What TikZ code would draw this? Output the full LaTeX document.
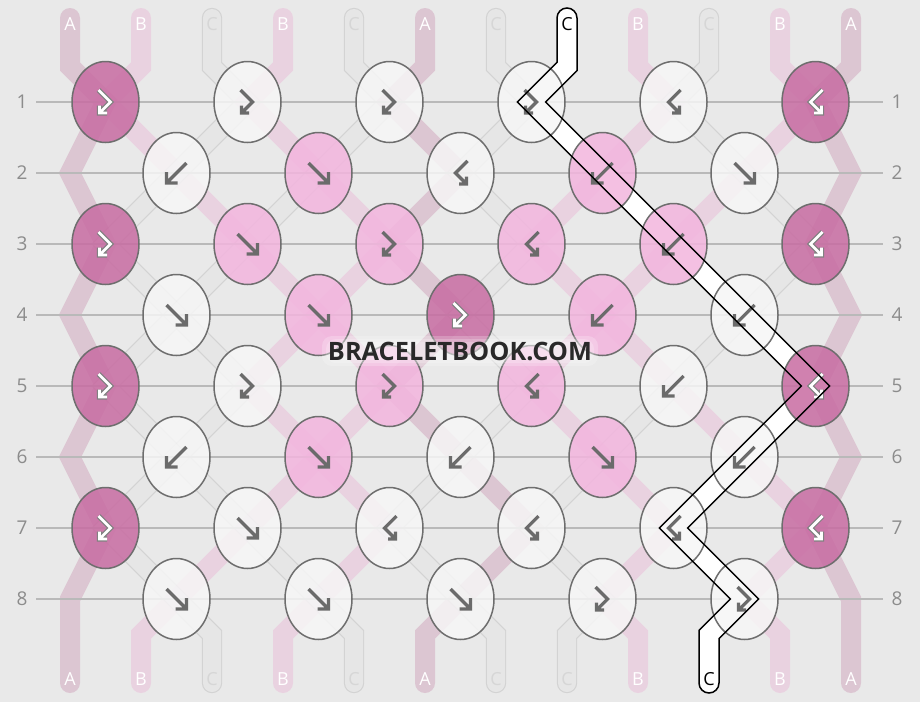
\documentclass[tikz,border=0pt]{standalone}
\usepackage{fontspec}
\setmainfont{Open Sans}
\usetikzlibrary{shapes.geometric,calc}
\definecolor{bgc}{HTML}{E9E9E9}
\definecolor{cA}{HTML}{B8608F}
\definecolor{cB}{HTML}{EBA3D0}
\definecolor{kD}{HTML}{C86CA2}
\definecolor{kP}{HTML}{F3B5DE}
\definecolor{kW}{HTML}{F6F6F6}
\definecolor{arr}{HTML}{6B6B6B}
\definecolor{rim}{HTML}{6E6E6E}
\definecolor{rowline}{HTML}{B9B9B9}
\definecolor{numc}{HTML}{8C8C8C}
\definecolor{letC}{HTML}{D6D6D6}
\newcommand\gFW{(-10,-10) -- (10,10) (-1,10) -- (10,10) -- (10,-1)}
\newcommand\gBW{(10,-10) -- (-10,10) (1,10) -- (-10,10) -- (-10,-1)}
\newcommand\gFB{(-7,-12) -- (5,0) -- (-6,11) (-6,3.5) -- (-6,11) -- (1.5,11)}
\newcommand\gBF{(7,-12) -- (-5,0) -- (6,11) (6,3.5) -- (6,11) -- (-1.5,11)}
\newcommand\drawglyph[3]{%
  \expandafter\let\expandafter\curglyph\csname g#2\endcsname
  \begin{scope}[shift={(#1)}]
    \draw[#3] \curglyph;
  \end{scope}}
\newcommand\hlpath{($(T8)+(-10,0)$) -- ($(U8)+(-10,-4.142)$) -- ($(p1-4)+(-14.142,0)$) -- ($(p5-6)+(-14.142,0)$) -- ($(p7-5)+(-14.142,0)$) -- ($(p8-5)+(-14.142,0)$) -- ($(D10)+(-10,-4.142)$) -- ($(B10)+(-10,0)$) arc[start angle=180, end angle=0, radius=10] -- ($(D10)+(10,4.142)$) -- ($(p8-5)+(14.142,0)$) -- ($(p7-5)+(14.142,0)$) -- ($(p5-6)+(14.142,0)$) -- ($(p1-4)+(14.142,0)$) -- ($(U8)+(10,4.142)$) -- ($(T8)+(10,0)$) arc[start angle=0, end angle=-180, radius=10] -- cycle}
\begin{document}
\begin{tikzpicture}[x=0.5pt,y=-0.5pt,
  bandA/.style={line width=10pt, line cap=round, line join=miter, draw=cA, draw opacity=0.25},
  bandB/.style={line width=10pt, line cap=round, line join=miter, draw=cB, draw opacity=0.32},
  bandC/.style={line width=9pt, line cap=round, line join=miter, draw=white, draw opacity=0.45,
     preaction={draw=black, draw opacity=0.09, line width=10.2pt, line cap=round, line join=miter}},
  knot/.style={ellipse, draw=rim, line width=0.75pt, minimum width=33.5pt, minimum height=40.5pt, inner sep=0pt, fill opacity=0.85},
  arrW/.style={draw=arr, line width=1.6pt},
  arrP/.style={draw=arr, line width=1.6pt},
  arrD/.style={draw=white, line width=1.4pt, preaction={draw=arr!85, line width=2.6pt}},
  rowl/.style={draw=rowline, line width=0.6pt, shorten <=1pt, shorten >=1pt},
  num/.style={text=numc, font=\fontsize{9.5}{10}\selectfont},
  labL/.style={text=white, font=\fontsize{9}{10}\selectfont, inner sep=0pt},
  labC/.style={text=letC, font=\fontsize{9}{10}\selectfont, inner sep=0pt},
  labH/.style={text=black, font=\fontsize{9}{10}\selectfont, inner sep=0pt},
  wm/.style={text=black!84, font=\bfseries, inner sep=0pt},
  glow/.style={fill=white, fill opacity=0.22, rounded corners=5pt}]
\useasboundingbox (0,0) rectangle (920,702);
\fill[bgc] (0,0) rectangle (920,702);
% string end coordinates
\foreach \i in {1,...,12} {
  \pgfmathsetmacro\xx{70+71*(\i-1)}
  \coordinate (T\i) at (\xx,18);
  \coordinate (U\i) at (\xx,66.5);
  \coordinate (D\i) at (\xx,634.5);
  \coordinate (B\i) at (\xx,683);
}
% knot centres
\foreach \rr in {1,3,5,7} {
  \foreach \kk in {1,...,6} {
    \coordinate (p\rr-\kk) at ({105.5+142*(\kk-1)},{102+71*(\rr-1)});
  }
}
\foreach \rr in {2,4,6,8} {
  \foreach \kk in {1,...,5} {
    \coordinate (p\rr-\kk) at ({176.5+142*(\kk-1)},{102+71*(\rr-1)});
  }
  \coordinate (EL\rr) at (70,{102+71*(\rr-1)});
  \coordinate (ER\rr) at (851,{102+71*(\rr-1)});
}
% strings
\draw[bandA] (T1) -- (U1) -- (p1-1) -- (EL2) -- (p3-1) -- (EL4) -- (p5-1) -- (EL6) -- (p7-1) -- (EL8) -- (B1);
\draw[bandB] (T2) -- (U2) -- (p1-1) -- (p2-1) -- (p3-2) -- (p4-2) -- (p5-3) -- (p6-2) -- (p7-2) -- (p8-1) -- (D2) -- (B2);
\draw[bandC] (T3) -- (U3) -- (p1-2) -- (p2-1) -- (p3-1) -- (p4-1) -- (p5-2) -- (p6-1) -- (p7-1) -- (p8-1) -- (D3) -- (B3);
\draw[bandB] (T4) -- (U4) -- (p1-2) -- (p2-2) -- (p3-3) -- (p4-2) -- (p5-2) -- (p6-2) -- (p7-3) -- (p8-2) -- (D4) -- (B4);
\draw[bandC] (T5) -- (U5) -- (p1-3) -- (p2-2) -- (p3-2) -- (p4-1) -- (p5-1) -- (p6-1) -- (p7-2) -- (p8-2) -- (D5) -- (B5);
\draw[bandA] (T6) -- (U6) -- (p1-3) -- (p2-3) -- (p3-3) -- (p4-3) -- (p5-3) -- (p6-3) -- (p7-4) -- (p8-3) -- (D6) -- (B6);
\draw[bandC] (T7) -- (U7) -- (p1-4) -- (p2-3) -- (p3-4) -- (p4-3) -- (p5-4) -- (p6-3) -- (p7-3) -- (p8-3) -- (D7) -- (B7);
\draw[bandC] (T8) -- (U8) -- (p1-4) -- (p2-4) -- (p3-5) -- (p4-5) -- (p5-6) -- (p6-5) -- (p7-5) -- (p8-5) -- (D10) -- (B10);
\draw[bandB] (T9) -- (U9) -- (p1-5) -- (p2-4) -- (p3-4) -- (p4-4) -- (p5-5) -- (p6-5) -- (p7-6) -- (p8-5) -- (D11) -- (B11);
\draw[bandC] (T10) -- (U10) -- (p1-5) -- (p2-5) -- (p3-6) -- (p4-5) -- (p5-5) -- (p6-4) -- (p7-4) -- (p8-4) -- (D8) -- (B8);
\draw[bandB] (T11) -- (U11) -- (p1-6) -- (p2-5) -- (p3-5) -- (p4-4) -- (p5-4) -- (p6-4) -- (p7-5) -- (p8-4) -- (D9) -- (B9);
\draw[bandA] (T12) -- (U12) -- (p1-6) -- (ER2) -- (p3-6) -- (ER4) -- (p5-6) -- (ER6) -- (p7-6) -- (ER8) -- (B12);
% string letters
\foreach \i/\L/\st in {1/A/labL,2/B/labL,3/C/labC,4/B/labL,5/C/labC,6/A/labL,7/C/labC,9/B/labL,10/C/labC,11/B/labL,12/A/labL} {
  \node[\st] (tl\i) at ($(T\i)+(0,6)$) {\L};
}
\foreach \i/\L/\st in {1/A/labL,2/B/labL,3/C/labC,4/B/labL,5/C/labC,6/A/labL,7/C/labC,8/C/labC,9/B/labL,11/B/labL,12/A/labL} {
  \node[\st] (bl\i) at ($(B\i)+(0,-4)$) {\L};
}
% row numbers and lines
\foreach \rr in {1,...,8} {
  \node[num] (nl\rr) at (22,{102+71*(\rr-1)}) {\rr};
  \node[num] (nr\rr) at (897,{102+71*(\rr-1)}) {\rr};
  \draw[rowl] (nl\rr) -- (nr\rr);
}
% highlighted string fill
\fill[white] \hlpath;
% knots
\foreach \rr/\kk/\kc/\ty in {
  1/1/D/FB, 1/2/W/FB, 1/3/W/FB, 1/4/W/FB, 1/5/W/BF, 1/6/D/BF,
  2/1/W/BW, 2/2/P/FW, 2/3/W/BF, 2/4/P/BW, 2/5/W/FW,
  3/1/D/FB, 3/2/P/FW, 3/3/P/FB, 3/4/P/BF, 3/5/P/BW, 3/6/D/BF,
  4/1/W/FW, 4/2/P/FW, 4/3/D/FB, 4/4/P/BW, 4/5/W/BW,
  5/1/D/FB, 5/2/W/FB, 5/3/P/FB, 5/4/P/BF, 5/5/W/BW, 5/6/D/BF,
  6/1/W/BW, 6/2/P/FW, 6/3/W/BW, 6/4/P/FW, 6/5/W/BW,
  7/1/D/FB, 7/2/W/FW, 7/3/W/BF, 7/4/W/BF, 7/5/W/BF, 7/6/D/BF,
  8/1/W/FW, 8/2/W/FW, 8/3/W/FW, 8/4/W/FB, 8/5/W/FB} {
  \node[knot, fill=k\kc] (k\rr-\kk) at (p\rr-\kk) {};
  \drawglyph{p\rr-\kk}{\ty}{arr\kc}
}
% highlighted string outline and letters
\draw[black, line width=0.75pt, line join=miter] \hlpath;
\node[labH] (tl8) at ($(T8)+(0,6)$) {C};
\node[labH] (bl10) at ($(B10)+(0,-4)$) {C};
% watermark with soft white glow
\fill[glow] (322,336) rectangle (598,366);
\fill[glow] (326,339) rectangle (594,363);
\fill[glow] (330,342) rectangle (590,360);
\node[wm] (wmark) at (460,351) {\resizebox{132pt}{!}{BRACELETBOOK.COM}};
\end{tikzpicture}
\end{document}
